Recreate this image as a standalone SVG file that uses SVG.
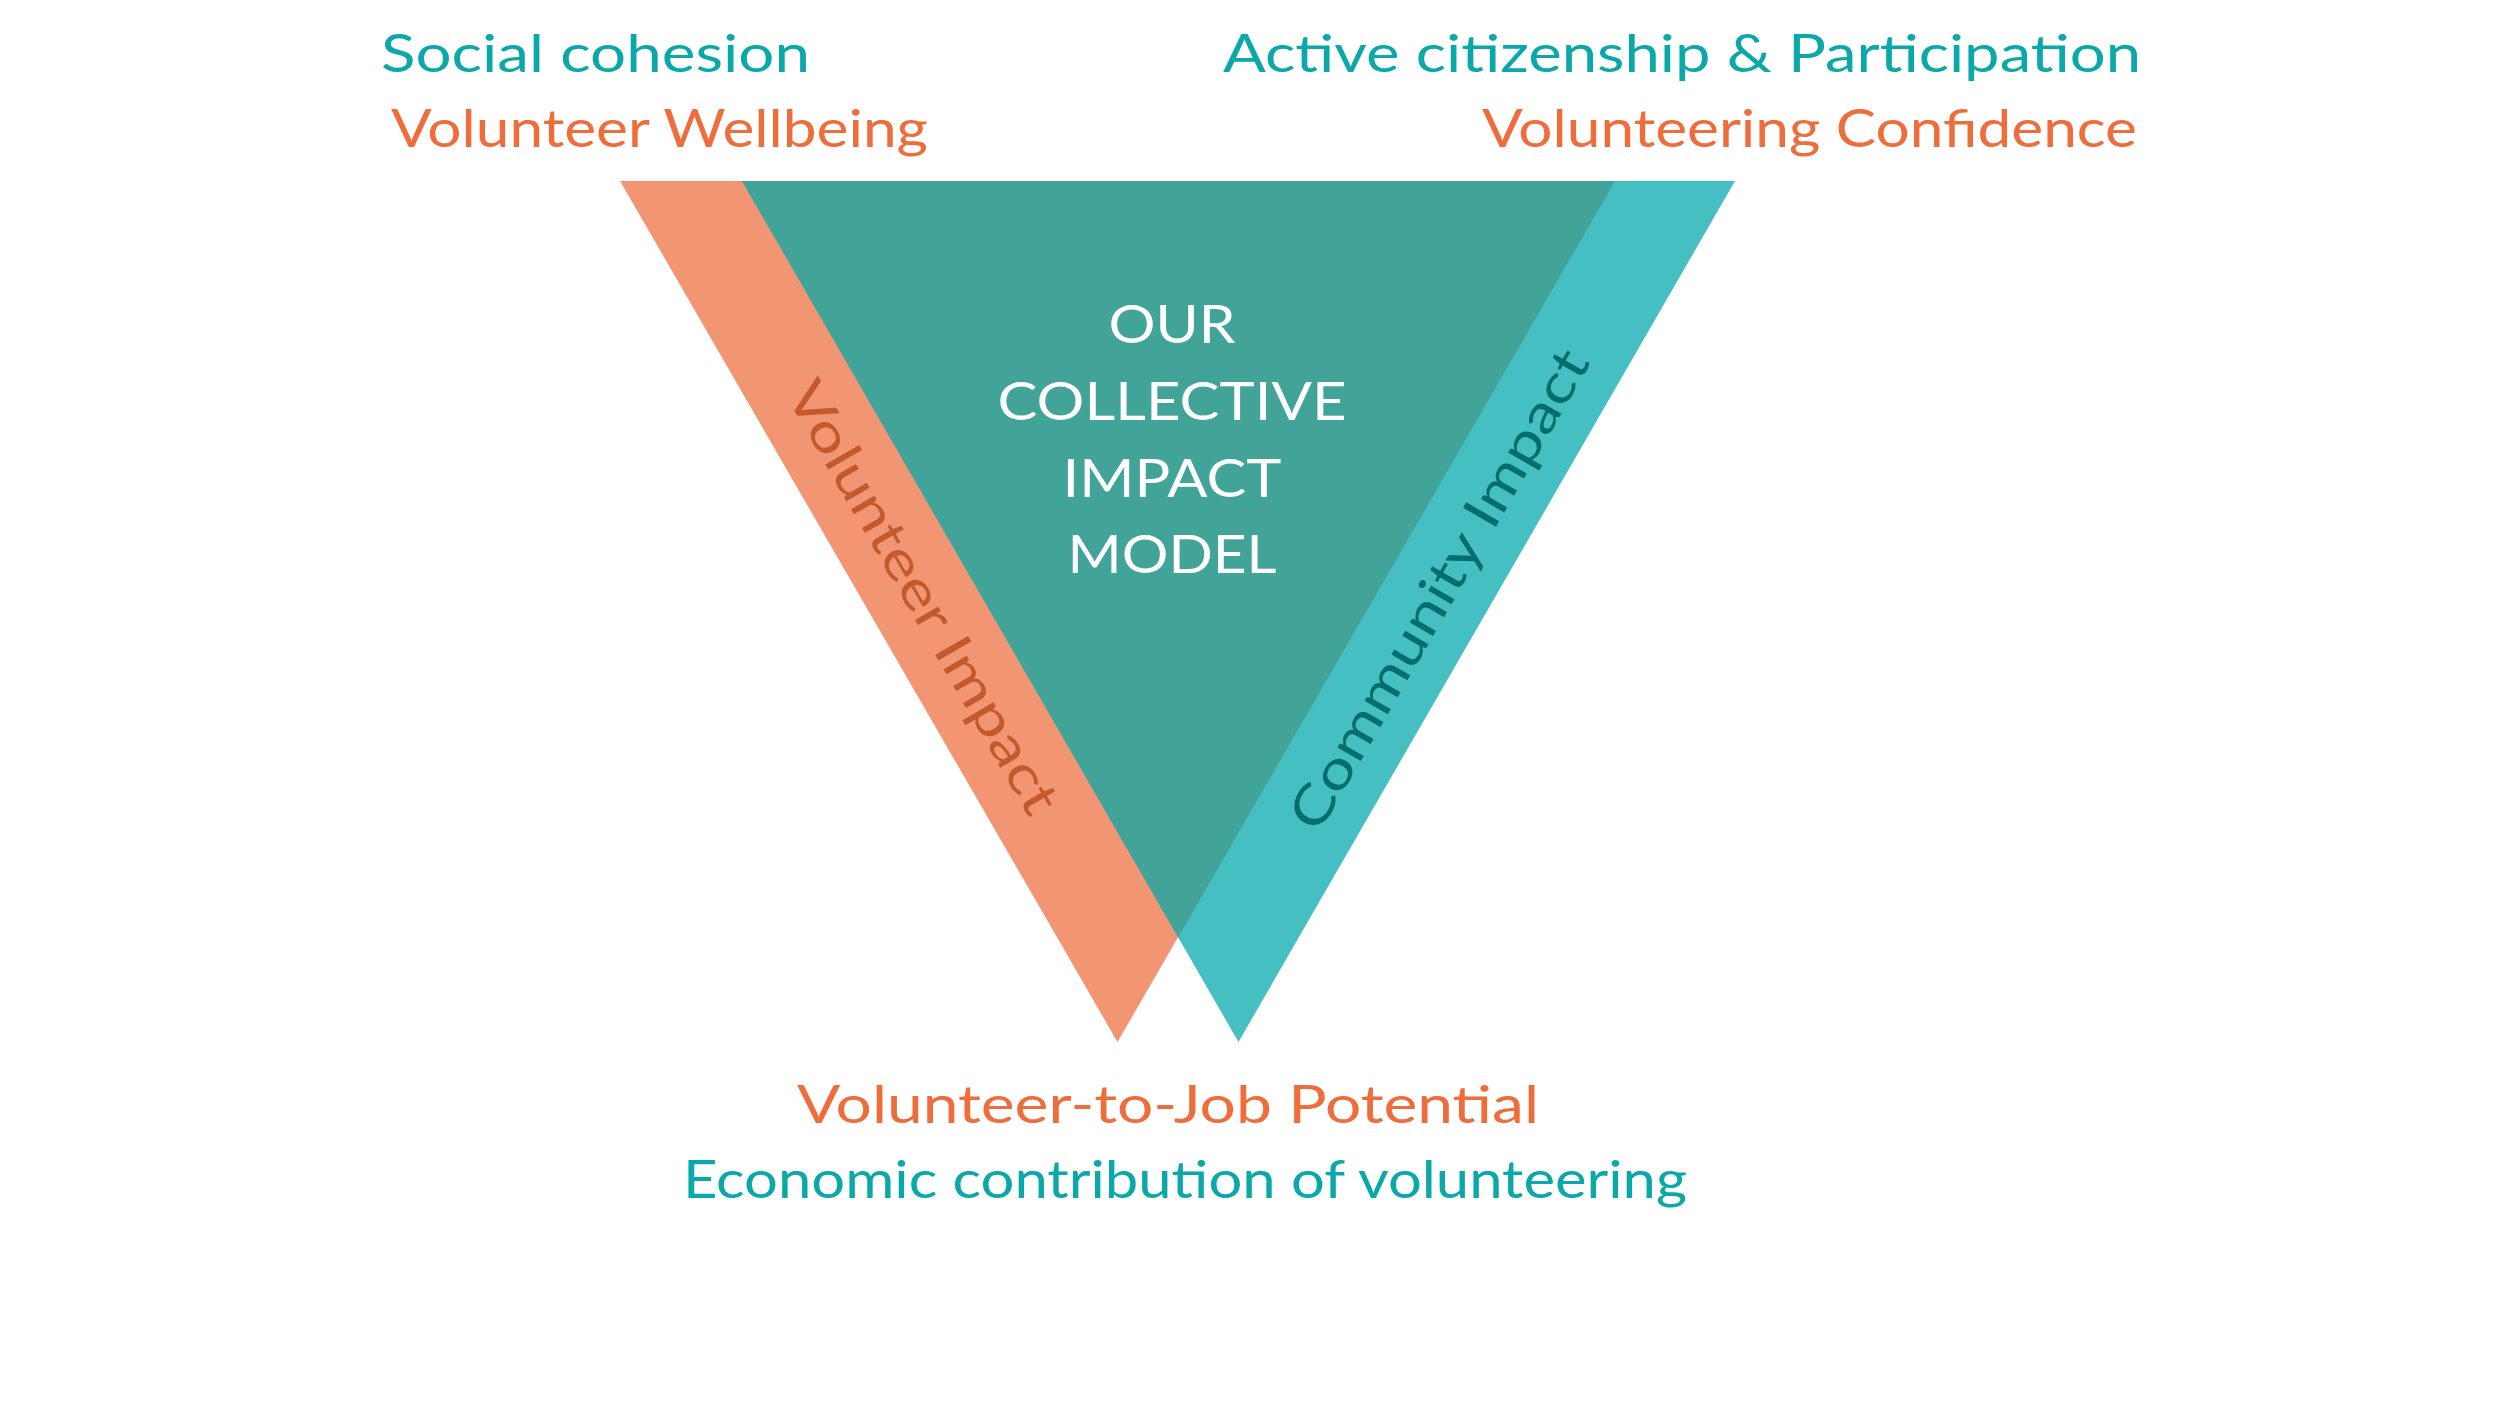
<svg xmlns="http://www.w3.org/2000/svg" width="2500" height="1406" viewBox="0 0 2500 1406">
<style>
  .t { font-family: Lato, "Open Sans", "Liberation Sans", sans-serif; font-size: 53px; }
  .teal { fill: #0AA8A9; }
  .orange { fill: #EF6C3B; }
  .white { fill: #FFFFFF; text-anchor: middle; }
</style>
<rect x="0" y="0" width="2500" height="1406" fill="#FFFFFF"/>
<g id="volunteer-impact">
  <polygon points="620,181 1615,181 1117.5,1042" fill="#F29572"/>
</g>
<g id="community-impact">
  <polygon points="742,181 1735,181 1238.5,1042" fill="#46BFC2"/>
</g>
<g id="collective-impact-model">
  <polygon points="742,181 1615,181 1178.1,937.2" fill="#42A398"/>
  <text class="t white" x="1172" y="343" textLength="127" lengthAdjust="spacingAndGlyphs">OUR</text>
  <text class="t white" x="1172" y="420" textLength="349" lengthAdjust="spacingAndGlyphs">COLLECTIVE</text>
  <text class="t white" x="1172" y="497" textLength="219" lengthAdjust="spacingAndGlyphs">IMPACT</text>
  <text class="t white" x="1172" y="573" textLength="209" lengthAdjust="spacingAndGlyphs">MODEL</text>
</g>
<g id="volunteer-impact-label" transform="translate(922,598) rotate(60)">
  <text class="t" x="0" y="17" text-anchor="middle" fill="#C35A2D" textLength="490" lengthAdjust="spacingAndGlyphs">Volunteer Impact</text>
</g>
<g id="community-impact-label" transform="translate(1440,590) rotate(-60)">
  <text class="t" x="0" y="17" text-anchor="middle" fill="#006D6E" textLength="545" lengthAdjust="spacingAndGlyphs">Community Impact</text>
</g>
<g id="top-left-labels">
  <text class="t teal" x="381" y="72" textLength="429" lengthAdjust="spacingAndGlyphs">Social cohesion</text>
  <text class="t orange" x="391" y="147" textLength="537" lengthAdjust="spacingAndGlyphs">Volunteer Wellbeing</text>
</g>
<g id="top-right-labels">
  <text class="t teal" x="1223" y="72" textLength="918" lengthAdjust="spacingAndGlyphs">Active citizenship &amp; Participation</text>
  <text class="t orange" x="1482" y="147" textLength="655" lengthAdjust="spacingAndGlyphs">Volunteering Confidence</text>
</g>
<g id="bottom-labels">
  <text class="t orange" x="797" y="1123" textLength="742" lengthAdjust="spacingAndGlyphs">Volunteer-to-Job Potential</text>
  <text class="t teal" x="683" y="1198" textLength="1004" lengthAdjust="spacingAndGlyphs">Economic contribution of volunteering</text>
</g>
<g id="connectors"></g>
</svg>
